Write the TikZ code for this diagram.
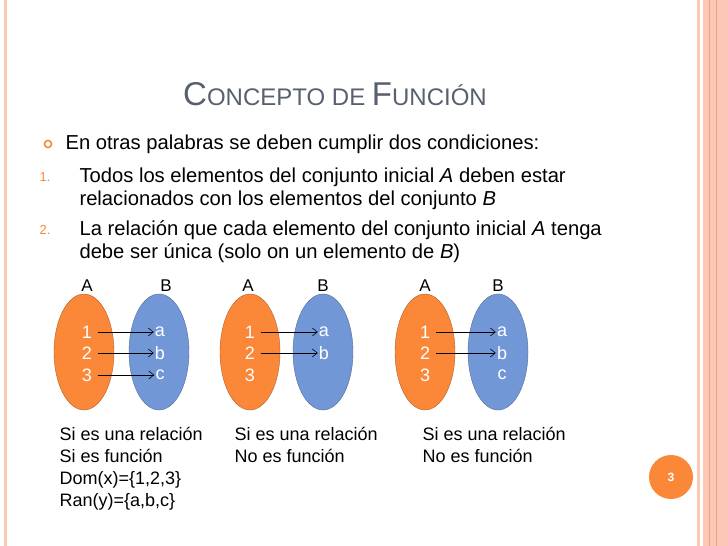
\documentclass[tikz,border=0pt]{standalone}
\usepackage{fontspec}
\setmainfont{Liberation Sans}
\usetikzlibrary{shapes.geometric, arrows.meta}
\definecolor{setorange}{RGB}{250,136,56}
\definecolor{setblue}{RGB}{114,151,215}
\definecolor{titlegray}{RGB}{88,95,110}
\definecolor{bandpink}{RGB}{250,200,180}
\definecolor{bandline}{RGB}{240,160,130}

\tikzset{
  seta/.style = {ellipse, draw = setorange!70!black, fill = setorange, minimum width = 60pt, minimum height = 116pt},
  setb/.style = {ellipse, draw = setblue!70!black, fill = setblue, minimum width = 60pt, minimum height = 116pt},
  elem/.style = {text = white, font = \fontsize{18}{18}\selectfont, inner sep = 1pt},
  lbl/.style = {font = \fontsize{17}{17}\selectfont},
  body/.style = {anchor = west, font = \fontsize{20.2}{23}\selectfont, align = left},
  note/.style = {anchor = north west, font = \fontsize{18}{22}\selectfont, align = left},
  maps/.style = {-{Straight Barb[length = 5pt, width = 8pt]}, semithick}
}

\begin{document}
\begin{tikzpicture}[x = 1pt, y = -1pt]
\useasboundingbox (0, 0) rectangle (728, 546);

% slide borders
\fill [bandpink] (4, 0) rectangle (7, 546);
\fill [bandpink] (697, 0) rectangle (700, 546);
\fill [bandpink] (703, 0) rectangle (728, 546);
\draw [bandline] (709, 0) -- (709, 546);
\draw [bandline] (716, 0) -- (716, 546);

% title
\node [text = titlegray] (title) at (335, 94) {\fontsize{33}{33}\selectfont C\fontsize{24}{24}\selectfont ONCEPTO DE \fontsize{33}{33}\selectfont F\fontsize{24}{24}\selectfont UNCIÓN};

% text
\node [draw = setorange, line width = 1.6pt, circle, inner sep = 2.5pt] (bul) at (48, 144) {};
\node [body] (t0) at (62, 144) {En otras palabras se deben cumplir dos condiciones:};
\node [text = setorange, font = \fontsize{13}{13}\selectfont] (n1) at (45, 177) {1.};
\node [body, anchor = north west] (t1) at (76, 164) {Todos los elementos del conjunto inicial \textit{A} deben estar\\relacionados con los elementos del conjunto \textit{B}};
\node [text = setorange, font = \fontsize{13}{13}\selectfont] (n2) at (45, 230) {2.};
\node [body, anchor = north west] (t2) at (76, 217) {La relación que cada elemento del conjunto inicial \textit{A} tenga\\debe ser única (solo on un elemento de \textit{B})};

% diagram 1
\node [seta] (A1) at (84, 352) {};
\node [setb] (B1) at (159, 352) {};
\node [lbl] (la1) at (87, 286) {A};
\node [lbl] (lb1) at (166, 286) {B};
\node [elem] (p1) at (87, 332) {1};
\node [elem] (p2) at (87, 353) {2};
\node [elem] (p3) at (87, 375) {3};
\node [elem] (q1) at (160, 332) {a};
\node [elem] (q2) at (160, 353) {b};
\node [elem] (q3) at (160, 375) {c};
\draw [maps] (p1.east) ++(5, 0) -- (q1.west);
\draw [maps] (p2.east) ++(5, 0) -- (q2.west);
\draw [maps] (p3.east) ++(5, 0) -- (q3.west);

% diagram 2
\node [seta] (A2) at (250, 352) {};
\node [setb] (B2) at (323, 352) {};
\node [lbl] (la2) at (248, 286) {A};
\node [lbl] (lb2) at (323, 286) {B};
\node [elem] (r1) at (250, 332) {1};
\node [elem] (r2) at (250, 353) {2};
\node [elem] (r3) at (250, 375) {3};
\node [elem] (s1) at (324, 332) {a};
\node [elem] (s2) at (324, 353) {b};
\draw [maps] (r1.east) ++(5, 0) -- (s1.west);
\draw [maps] (r2.east) ++(5, 0) -- (s2.west);

% diagram 3
\node [seta] (A3) at (425, 352) {};
\node [setb] (B3) at (498, 352) {};
\node [lbl] (la3) at (425, 286) {A};
\node [lbl] (lb3) at (498, 286) {B};
\node [elem] (u1) at (425, 332) {1};
\node [elem] (u2) at (425, 353) {2};
\node [elem] (u3) at (425, 375) {3};
\node [elem] (v1) at (502, 332) {a};
\node [elem] (v2) at (502, 353) {b};
\node [elem] (v3) at (502, 375) {c};
\draw [maps] (u1.east) ++(5, 0) -- (v1.west);
\draw [maps] (u2.east) ++(5, 0) -- (v2.west);

% captions
\node [note] (c1) at (56, 424) {Si es una relación\\Si es función\\Dom(x)=\{1,2,3\}\\Ran(y)=\{a,b,c\}};
\node [note] (c2) at (231, 424) {Si es una relación\\No es función};
\node [note] (c3) at (419, 424) {Si es una relación\\No es función};

% page number
\node [circle, fill = setorange, minimum size = 44pt, text = white, font = \fontsize{12}{12}\selectfont\bfseries] (pg) at (671, 477) {3};

\end{tikzpicture}
\end{document}
